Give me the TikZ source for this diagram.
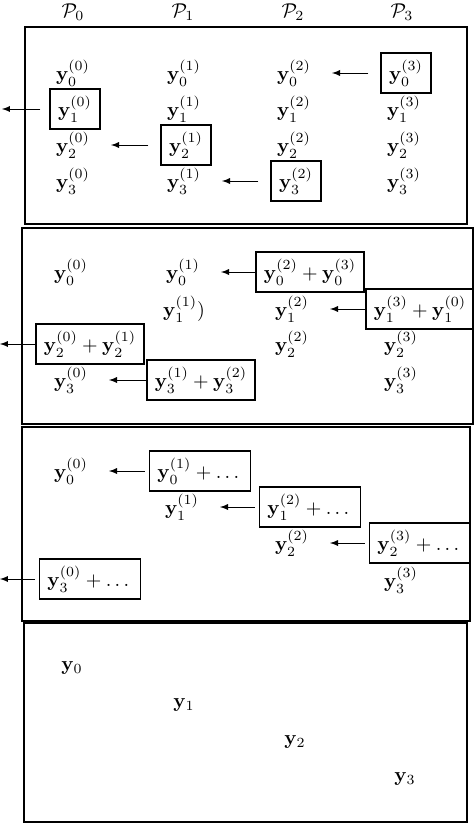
\documentclass[tikz,border=0pt]{standalone}
\usepackage{amsmath,amssymb}
\newcommand{\yv}[2]{\mathbf{y}_{#1}^{(#2)}}
\tikzset{blk/.style={draw,line width=0.7pt,inner xsep=4pt,minimum height=20pt},
  send/.style={-latex,shorten >=7pt},
  frame/.style={line width=0.9pt},
  proc/.style={inner sep=1pt}}

\begin{document}
\begin{tikzpicture}[x=0.5pt,y=-0.5pt]
  \useasboundingbox (0,0) rectangle (474,824);
  \node[proc] (h0) at (73,12)  {$\mathcal{P}_0$};
  \node[proc] (h1) at (183,12) {$\mathcal{P}_1$};
  \node[proc] (h2) at (293,12) {$\mathcal{P}_2$};
  \node[proc] (h3) at (402,12) {$\mathcal{P}_3$};
  % first step
  \draw[frame] (25,27) rectangle (467,224);
  \node (a00) at (73,73)  {$\yv00$};
  \node (a01) at (184,73) {$\yv01$};
  \node (a02) at (294,73) {$\yv02$};
  \node[blk] (a03) at (406,73) {$\yv03$};
  \node[blk] (a10) at (75,109) {$\yv10$};
  \node (a11) at (184,109) {$\yv11$};
  \node (a12) at (294,109) {$\yv12$};
  \node (a13) at (404,109) {$\yv13$};
  \node (a20) at (73,145)  {$\yv20$};
  \node[blk] (a21) at (186,145) {$\yv21$};
  \node (a22) at (294,145) {$\yv22$};
  \node (a23) at (404,145) {$\yv23$};
  \node (a30) at (73,181)  {$\yv30$};
  \node (a31) at (184,181) {$\yv31$};
  \node[blk] (a32) at (296,181) {$\yv32$};
  \node (a33) at (404,181) {$\yv33$};
  \coordinate (out1) at (2,109);
  \draw[send,shorten <=6pt] (a03) -- (a02);
  \draw[send,shorten <=6pt] (a21) -- (a20);
  \draw[send,shorten <=6pt] (a32) -- (a31);
  \draw[-latex,shorten <=4.5pt] (a10) -- (out1);
  % second step
  \draw[frame] (22,228) rectangle (473,424);
  \node (b00) at (71,272)  {$\yv00$};
  \node (b01) at (183,272) {$\yv01$};
  \node[blk] (b02) at (310,272) {$\yv02+\yv03$};
  \node (b11) at (184,309) {$\yv11)$};
  \node (b12) at (292,309) {$\yv12$};
  \node[blk] (b13) at (420,309) {$\yv13+\yv10$};
  \node[blk] (b20) at (90,344) {$\yv20+\yv21$};
  \node (b22) at (292,344) {$\yv22$};
  \node (b23) at (401,344) {$\yv23$};
  \node (b30) at (71,380)  {$\yv30$};
  \node[blk] (b31) at (201,380) {$\yv31+\yv32$};
  \node (b33) at (401,380) {$\yv33$};
  \coordinate (out2) at (0,344);
  \draw[send] (b02) -- (b01);
  \draw[send] (b13) -- (b12);
  \draw[send] (b31) -- (b30);
  \draw[-latex] (b20) -- (out2);
  % third step
  \draw[frame] (22,427) rectangle (470,621);
  \node (c00) at (71,471)  {$\yv00$};
  \node[blk] (c01) at (200,471) {$\yv01+\dots$};
  \node (c11) at (182,507) {$\yv11$};
  \node[blk] (c12) at (310,507) {$\yv12+\dots$};
  \node (c22) at (292,543) {$\yv22$};
  \node[blk] (c23) at (420,543) {$\yv23+\dots$};
  \node[blk] (c30) at (90,579) {$\yv30+\dots$};
  \node (c33) at (401,580) {$\yv33$};
  \coordinate (out3) at (0,579);
  \draw[send,shorten <=2pt] (c01) -- (c00);
  \draw[send,shorten <=2pt] (c12) -- (c11);
  \draw[send,shorten <=2pt] (c23) -- (c22);
  \draw[-latex,shorten <=2pt] (c30) -- (out3);
  % result
  \draw[frame] (24,623) rectangle (467,822);
  \node (d0) at (72,668)  {$\mathbf{y}_0$};
  \node (d1) at (184,705) {$\mathbf{y}_1$};
  \node (d2) at (295,742) {$\mathbf{y}_2$};
  \node (d3) at (405,779) {$\mathbf{y}_3$};
\end{tikzpicture}
\end{document}
